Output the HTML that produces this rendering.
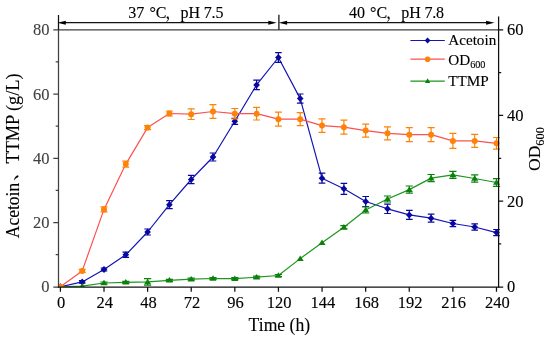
<!DOCTYPE html>
<html lang="en"><head><meta charset="utf-8"><title>Fermentation time course</title>
<style>html,body{margin:0;padding:0;background:#fff}body{width:550px;height:338px;overflow:hidden}</style></head>
<body>
<svg width="550" height="338" viewBox="0 0 550 338" style="display:block">
<rect width="550" height="338" fill="#fff"/>
<defs><clipPath id="c"><rect x="58.50" y="29.80" width="443.10" height="257.25"/></clipPath></defs>
<g clip-path="url(#c)">
<polyline points="60.4,286.8 82.2,281.9 104.0,269.5 125.8,254.8 147.6,232.0 169.4,204.7 191.2,179.5 213.0,157.0 234.8,121.3 256.6,84.9 278.4,57.5 300.2,98.6 322.0,178.2 343.9,188.8 365.7,201.5 387.5,208.8 409.3,214.9 431.1,218.2 452.9,223.5 474.7,227.0 496.5,232.6" fill="none" stroke="#1414b8" stroke-width="1.2" stroke-linejoin="round"/>
<path d="M82.2 280.7V283.1M78.9 280.7h6.6M78.9 283.1h6.6M104.0 268.0V271.0M100.7 268.0h6.6M100.7 271.0h6.6M125.8 252.2V257.4M122.5 252.2h6.6M122.5 257.4h6.6M147.6 229.0V235.0M144.3 229.0h6.6M144.3 235.0h6.6M169.4 200.7V208.7M166.1 200.7h6.6M166.1 208.7h6.6M191.2 175.3V183.7M187.9 175.3h6.6M187.9 183.7h6.6M213.0 153.0V161.0M209.7 153.0h6.6M209.7 161.0h6.6M234.8 118.3V124.3M231.5 118.3h6.6M231.5 124.3h6.6M256.6 80.2V89.6M253.3 80.2h6.6M253.3 89.6h6.6M278.4 52.6V62.4M275.1 52.6h6.6M275.1 62.4h6.6M300.2 94.0V103.2M296.9 94.0h6.6M296.9 103.2h6.6M322.0 173.2V183.2M318.7 173.2h6.6M318.7 183.2h6.6M343.9 183.3V194.3M340.6 183.3h6.6M340.6 194.3h6.6M365.7 196.5V206.5M362.4 196.5h6.6M362.4 206.5h6.6M387.5 204.1V213.5M384.2 204.1h6.6M384.2 213.5h6.6M409.3 210.4V219.4M406.0 210.4h6.6M406.0 219.4h6.6M431.1 214.2V222.2M427.8 214.2h6.6M427.8 222.2h6.6M452.9 220.3V226.7M449.6 220.3h6.6M449.6 226.7h6.6M474.7 223.8V230.2M471.4 223.8h6.6M471.4 230.2h6.6M496.5 229.5V235.7M493.2 229.5h6.6M493.2 235.7h6.6" fill="none" stroke="#0808a0" stroke-width="1.2"/>
<path d="M60.4 283.3l3.3 3.5l-3.3 3.5l-3.3 -3.5z" fill="#0808a0"/>
<path d="M82.2 278.4l3.3 3.5l-3.3 3.5l-3.3 -3.5z" fill="#0808a0"/>
<path d="M104.0 266.0l3.3 3.5l-3.3 3.5l-3.3 -3.5z" fill="#0808a0"/>
<path d="M125.8 251.3l3.3 3.5l-3.3 3.5l-3.3 -3.5z" fill="#0808a0"/>
<path d="M147.6 228.5l3.3 3.5l-3.3 3.5l-3.3 -3.5z" fill="#0808a0"/>
<path d="M169.4 201.2l3.3 3.5l-3.3 3.5l-3.3 -3.5z" fill="#0808a0"/>
<path d="M191.2 176.0l3.3 3.5l-3.3 3.5l-3.3 -3.5z" fill="#0808a0"/>
<path d="M213.0 153.5l3.3 3.5l-3.3 3.5l-3.3 -3.5z" fill="#0808a0"/>
<path d="M234.8 117.8l3.3 3.5l-3.3 3.5l-3.3 -3.5z" fill="#0808a0"/>
<path d="M256.6 81.4l3.3 3.5l-3.3 3.5l-3.3 -3.5z" fill="#0808a0"/>
<path d="M278.4 54.0l3.3 3.5l-3.3 3.5l-3.3 -3.5z" fill="#0808a0"/>
<path d="M300.2 95.1l3.3 3.5l-3.3 3.5l-3.3 -3.5z" fill="#0808a0"/>
<path d="M322.0 174.7l3.3 3.5l-3.3 3.5l-3.3 -3.5z" fill="#0808a0"/>
<path d="M343.9 185.3l3.3 3.5l-3.3 3.5l-3.3 -3.5z" fill="#0808a0"/>
<path d="M365.7 198.0l3.3 3.5l-3.3 3.5l-3.3 -3.5z" fill="#0808a0"/>
<path d="M387.5 205.3l3.3 3.5l-3.3 3.5l-3.3 -3.5z" fill="#0808a0"/>
<path d="M409.3 211.4l3.3 3.5l-3.3 3.5l-3.3 -3.5z" fill="#0808a0"/>
<path d="M431.1 214.7l3.3 3.5l-3.3 3.5l-3.3 -3.5z" fill="#0808a0"/>
<path d="M452.9 220.0l3.3 3.5l-3.3 3.5l-3.3 -3.5z" fill="#0808a0"/>
<path d="M474.7 223.5l3.3 3.5l-3.3 3.5l-3.3 -3.5z" fill="#0808a0"/>
<path d="M496.5 229.1l3.3 3.5l-3.3 3.5l-3.3 -3.5z" fill="#0808a0"/>
</g>
<g clip-path="url(#c)">
<polyline points="60.4,286.8 82.2,286.1 104.0,283.0 125.8,282.3 147.6,281.9 169.4,280.3 191.2,279.1 213.0,278.5 234.8,278.6 256.6,277.2 278.4,275.5 300.2,258.6 322.0,242.7 343.9,227.2 365.7,210.0 387.5,199.0 409.3,189.6 431.1,178.1 452.9,174.9 474.7,178.5 496.5,182.5" fill="none" stroke="#1c961c" stroke-width="1.2" stroke-linejoin="round"/>
<path d="M104.0 282.0V284.0M100.4 282.0h7.2M100.4 284.0h7.2M125.8 281.3V283.3M122.2 281.3h7.2M122.2 283.3h7.2M147.6 278.6V285.2M144.0 278.6h7.2M144.0 285.2h7.2M169.4 279.3V281.3M165.8 279.3h7.2M165.8 281.3h7.2M191.2 278.1V280.1M187.6 278.1h7.2M187.6 280.1h7.2M213.0 277.5V279.5M209.4 277.5h7.2M209.4 279.5h7.2M234.8 277.6V279.6M231.2 277.6h7.2M231.2 279.6h7.2M256.6 276.2V278.2M253.0 276.2h7.2M253.0 278.2h7.2M278.4 274.5V276.5M274.8 274.5h7.2M274.8 276.5h7.2M343.9 225.6V228.8M340.3 225.6h7.2M340.3 228.8h7.2M365.7 207.0V213.0M362.1 207.0h7.2M362.1 213.0h7.2M387.5 196.0V202.0M383.9 196.0h7.2M383.9 202.0h7.2M409.3 186.0V193.2M405.7 186.0h7.2M405.7 193.2h7.2M431.1 174.5V181.7M427.5 174.5h7.2M427.5 181.7h7.2M452.9 171.4V178.4M449.3 171.4h7.2M449.3 178.4h7.2M474.7 174.8V182.2M471.1 174.8h7.2M471.1 182.2h7.2M496.5 178.7V186.3M492.9 178.7h7.2M492.9 186.3h7.2" fill="none" stroke="#0a820a" stroke-width="1.2"/>
<path d="M60.4 283.6L63.9 289.1L56.9 289.1z" fill="#0a820a"/>
<path d="M82.2 282.9L85.7 288.4L78.7 288.4z" fill="#0a820a"/>
<path d="M104.0 279.8L107.5 285.3L100.5 285.3z" fill="#0a820a"/>
<path d="M125.8 279.1L129.3 284.6L122.3 284.6z" fill="#0a820a"/>
<path d="M147.6 278.7L151.1 284.2L144.1 284.2z" fill="#0a820a"/>
<path d="M169.4 277.1L172.9 282.6L165.9 282.6z" fill="#0a820a"/>
<path d="M191.2 275.9L194.7 281.4L187.7 281.4z" fill="#0a820a"/>
<path d="M213.0 275.3L216.5 280.8L209.5 280.8z" fill="#0a820a"/>
<path d="M234.8 275.4L238.3 280.9L231.3 280.9z" fill="#0a820a"/>
<path d="M256.6 274.0L260.1 279.5L253.1 279.5z" fill="#0a820a"/>
<path d="M278.4 272.3L281.9 277.8L274.9 277.8z" fill="#0a820a"/>
<path d="M300.2 255.4L303.7 260.9L296.7 260.9z" fill="#0a820a"/>
<path d="M322.0 239.5L325.5 245.0L318.5 245.0z" fill="#0a820a"/>
<path d="M343.9 224.0L347.4 229.5L340.4 229.5z" fill="#0a820a"/>
<path d="M365.7 206.8L369.2 212.3L362.2 212.3z" fill="#0a820a"/>
<path d="M387.5 195.8L391.0 201.3L384.0 201.3z" fill="#0a820a"/>
<path d="M409.3 186.4L412.8 191.9L405.8 191.9z" fill="#0a820a"/>
<path d="M431.1 174.9L434.6 180.4L427.6 180.4z" fill="#0a820a"/>
<path d="M452.9 171.7L456.4 177.2L449.4 177.2z" fill="#0a820a"/>
<path d="M474.7 175.3L478.2 180.8L471.2 180.8z" fill="#0a820a"/>
<path d="M496.5 179.3L500.0 184.8L493.0 184.8z" fill="#0a820a"/>
</g>
<g clip-path="url(#c)">
<polyline points="60.4,286.8 82.2,270.9 104.0,209.4 125.8,164.1 147.6,127.6 169.4,113.5 191.2,114.2 213.0,111.5 234.8,113.7 256.6,113.7 278.4,119.2 300.2,119.2 322.0,125.6 343.9,127.2 365.7,130.6 387.5,133.3 409.3,134.7 431.1,134.7 452.9,140.9 474.7,140.9 496.5,143.3" fill="none" stroke="#ff5050" stroke-width="1.2" stroke-linejoin="round"/>
<path d="M82.2 269.4V272.4M78.7 269.4h7.0M78.7 272.4h7.0M104.0 206.9V211.9M100.5 206.9h7.0M100.5 211.9h7.0M125.8 161.1V167.1M122.3 161.1h7.0M122.3 167.1h7.0M147.6 125.6V129.6M144.1 125.6h7.0M144.1 129.6h7.0M169.4 111.0V116.0M165.9 111.0h7.0M165.9 116.0h7.0M191.2 108.9V119.5M187.7 108.9h7.0M187.7 119.5h7.0M213.0 104.7V118.3M209.5 104.7h7.0M209.5 118.3h7.0M234.8 108.5V118.9M231.3 108.5h7.0M231.3 118.9h7.0M256.6 107.4V120.0M253.1 107.4h7.0M253.1 120.0h7.0M278.4 112.2V126.2M274.9 112.2h7.0M274.9 126.2h7.0M300.2 112.7V125.7M296.7 112.7h7.0M296.7 125.7h7.0M322.0 118.9V132.3M318.5 118.9h7.0M318.5 132.3h7.0M343.9 120.2V134.2M340.4 120.2h7.0M340.4 134.2h7.0M365.7 124.1V137.1M362.2 124.1h7.0M362.2 137.1h7.0M387.5 126.8V139.8M384.0 126.8h7.0M384.0 139.8h7.0M409.3 127.7V141.7M405.8 127.7h7.0M405.8 141.7h7.0M431.1 127.7V141.7M427.6 127.7h7.0M427.6 141.7h7.0M452.9 133.4V148.4M449.4 133.4h7.0M449.4 148.4h7.0M474.7 134.4V147.4M471.2 134.4h7.0M471.2 147.4h7.0M496.5 137.5V149.1M493.0 137.5h7.0M493.0 149.1h7.0" fill="none" stroke="#ff8208" stroke-width="1.2"/>
<circle cx="60.4" cy="286.8" r="3.0" fill="#ff8208"/>
<circle cx="82.2" cy="270.9" r="3.0" fill="#ff8208"/>
<circle cx="104.0" cy="209.4" r="3.0" fill="#ff8208"/>
<circle cx="125.8" cy="164.1" r="3.0" fill="#ff8208"/>
<circle cx="147.6" cy="127.6" r="3.0" fill="#ff8208"/>
<circle cx="169.4" cy="113.5" r="3.0" fill="#ff8208"/>
<circle cx="191.2" cy="114.2" r="3.0" fill="#ff8208"/>
<circle cx="213.0" cy="111.5" r="3.0" fill="#ff8208"/>
<circle cx="234.8" cy="113.7" r="3.0" fill="#ff8208"/>
<circle cx="256.6" cy="113.7" r="3.0" fill="#ff8208"/>
<circle cx="278.4" cy="119.2" r="3.0" fill="#ff8208"/>
<circle cx="300.2" cy="119.2" r="3.0" fill="#ff8208"/>
<circle cx="322.0" cy="125.6" r="3.0" fill="#ff8208"/>
<circle cx="343.9" cy="127.2" r="3.0" fill="#ff8208"/>
<circle cx="365.7" cy="130.6" r="3.0" fill="#ff8208"/>
<circle cx="387.5" cy="133.3" r="3.0" fill="#ff8208"/>
<circle cx="409.3" cy="134.7" r="3.0" fill="#ff8208"/>
<circle cx="431.1" cy="134.7" r="3.0" fill="#ff8208"/>
<circle cx="452.9" cy="140.9" r="3.0" fill="#ff8208"/>
<circle cx="474.7" cy="140.9" r="3.0" fill="#ff8208"/>
<circle cx="496.5" cy="143.3" r="3.0" fill="#ff8208"/>
</g>
<g stroke="#404040" stroke-width="1.25" fill="none">
<path d="M58.50 29.20V287.65"/>
<path d="M53.30 29.80H498.60"/>
<path d="M58.50 287.05h-5.2M58.50 222.55h-5.2M58.50 158.30h-5.2M58.50 94.05h-5.2M58.50 254.68h-2.8M58.50 190.43h-2.8M58.50 126.18h-2.8M58.50 61.93h-2.8"/>
</g>
<g stroke="#111" stroke-width="1.25" fill="none">
<path d="M57.90 287.05H503.20"/>
<path d="M498.60 16.40V287.65"/>
<path d="M60.40 287.05v4.7M104.01 287.05v4.7M147.62 287.05v4.7M191.22 287.05v4.7M234.83 287.05v4.7M278.44 287.05v4.7M322.05 287.05v4.7M365.66 287.05v4.7M409.26 287.05v4.7M452.87 287.05v4.7M496.48 287.05v4.7M498.60 201.13h4.6M498.60 115.47h4.6M498.60 29.80h4.6M498.60 243.97h2.6M498.60 158.30h2.6M498.60 72.63h2.6"/>
<path d="M58.50 15.0V29.80 M278.90 14.8V29.80"/>
<path d="M63.00 22.70H270.00 M285.00 22.70H488.00" stroke-width="1.2"/>
</g>
<path d="M57.40 22.70L65.80 20.70L65.80 24.70z" fill="#000"/>
<path d="M276.70 22.70L268.30 20.70L268.30 24.70z" fill="#000"/>
<path d="M278.70 22.70L287.10 20.70L287.10 24.70z" fill="#000"/>
<path d="M494.50 22.70L486.10 20.70L486.10 24.70z" fill="#000"/>
<g font-family="'Liberation Serif','Noto Serif CJK SC',serif" font-size="16.5" fill="#404040" stroke="#404040" stroke-width="0.1" text-anchor="end">
<text x="49.6" y="292.3">0</text>
<text x="49.6" y="228.1">20</text>
<text x="49.6" y="163.8">40</text>
<text x="49.6" y="99.6">60</text>
<text x="49.6" y="35.3">80</text>
</g>
<g font-family="'Liberation Serif','Noto Serif CJK SC',serif" font-size="16.5" fill="#000" stroke="#000" stroke-width="0.12">
<text x="507.1" y="292.3">0</text>
<text x="507.1" y="206.6">20</text>
<text x="507.1" y="121.0">40</text>
<text x="507.1" y="35.3">60</text>
<g text-anchor="middle">
<text x="61.2" y="308.4">0</text>
<text x="104.8" y="308.4">24</text>
<text x="148.4" y="308.4">48</text>
<text x="192.0" y="308.4">72</text>
<text x="235.6" y="308.4">96</text>
<text x="279.2" y="308.4">120</text>
<text x="322.8" y="308.4">144</text>
<text x="366.5" y="308.4">168</text>
<text x="410.1" y="308.4">192</text>
<text x="453.7" y="308.4">216</text>
<text x="497.3" y="308.4">240</text>
</g>
<text y="18.4" font-size="16"><tspan x="128.3">37 </tspan><tspan x="149.4">°C</tspan><tspan x="165.2">，</tspan><tspan x="180.6" letter-spacing="-0.15">pH 7.5</tspan></text>
<text y="18.4" font-size="16"><tspan x="349">40 </tspan><tspan x="370.1">°C</tspan><tspan x="385.9">，</tspan><tspan x="401.3" letter-spacing="-0.15">pH 7.8</tspan></text>
</g>
<g font-family="'Liberation Serif','Noto Serif CJK SC',serif" font-size="17.9" fill="#000" stroke="#000" stroke-width="0.12">
<text x="248.6" y="330.7" textLength="61.6" lengthAdjust="spacingAndGlyphs">Time (h)</text>
<g transform="translate(19.2 238.2) rotate(-90)"><text x="0" y="0" textLength="55.4" lengthAdjust="spacingAndGlyphs">Acetoin</text><text x="57.4" y="-2">、</text><text x="74.7" y="0" textLength="90" lengthAdjust="spacingAndGlyphs">TTMP (g/L)</text></g>
<g transform="translate(539.6 171.0) rotate(-90)"><text x="0" y="0" font-size="17.5">OD<tspan font-size="12.4" dy="4.8">600</tspan></text></g>
</g>
<g stroke-width="1.2" fill="none">
<path d="M410.4 40.5H444.8" stroke="#1414b8"/>
<path d="M410.4 59.2H444.8" stroke="#ff5050"/>
<path d="M410.4 81.2H444.8" stroke="#1c961c"/>
</g>
<path d="M427.6 37.4l2.9 3.1l-2.9 3.1l-2.9 -3.1z" fill="#0808a0"/>
<circle cx="427.6" cy="59.2" r="2.8" fill="#ff8208"/>
<path d="M427.6 78.3L430.2 82.9L425.0 82.9z" fill="#0a820a"/>
<g font-family="'Liberation Serif','Noto Serif CJK SC',serif" font-size="15.2" fill="#000" stroke="#000" stroke-width="0.12">
<text x="448.2" y="45.3">Acetoin</text>
<text x="448.2" y="64.5">OD<tspan font-size="10.2" dy="3.3">600</tspan></text>
<text x="448.2" y="86.3">TTMP</text>
</g>
</svg>
</body></html>
